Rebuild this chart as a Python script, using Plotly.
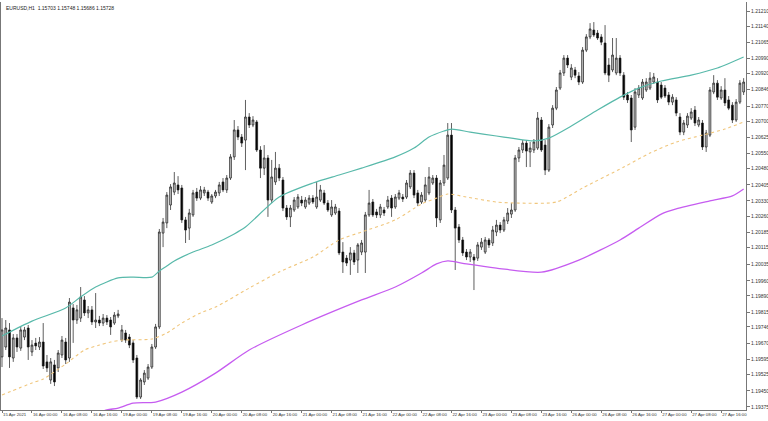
import plotly.graph_objects as go

title_text = "EURUSD,H1  1.15703 1.15748 1.15686 1.15728"

opens = [1.19607,1.19653,1.19732,1.19602,1.19695,1.19648,1.19699,1.19741,1.19630,1.19671,
1.19653,1.19676,1.19584,1.19500,1.19570,1.19556,1.19616,1.19676,1.19602,1.19834,
1.19778,1.19787,1.19871,1.19811,1.19825,1.19769,1.19778,1.19764,1.19787,1.19778,
1.19764,1.19797,1.19685,1.19718,1.19699,1.19672,1.19602,1.19421,1.19491,1.19509,
1.19560,1.19653,1.19746,1.20181,1.20228,1.20311,1.20371,1.20404,1.20390,1.20242,
1.20204,1.20265,1.20371,1.20343,1.20367,1.20371,1.20325,1.20353,1.20367,1.20418,
1.20381,1.20436,1.20534,1.20659,1.20626,1.20612,1.20719,1.20682,1.20696,1.20566,
1.20482,1.20529,1.20334,1.20418,1.20482,1.20427,1.20297,1.20256,1.20288,1.20302,
1.20334,1.20302,1.20320,1.20343,1.20302,1.20334,1.20367,1.20320,1.20265,1.20274,
1.20283,1.20093,1.20065,1.20056,1.20089,1.20056,1.20093,1.20093,1.20265,1.20325,
1.20279,1.20265,1.20288,1.20302,1.20343,1.20302,1.20343,1.20348,1.20348,1.20395,
1.20459,1.20367,1.20325,1.20334,1.20367,1.20413,1.20436,1.20242,1.20413,1.20436,
1.20635,1.20288,1.20209,1.20149,1.20093,1.20070,1.20070,1.20065,1.20116,1.20093,
1.20149,1.20135,1.20186,1.20218,1.20195,1.20237,1.20269,1.20288,1.20529,1.20566,
1.20598,1.20557,1.20566,1.20575,1.20705,1.20589,1.20473,1.20682,1.20760,1.20853,
1.20923,1.20992,1.20904,1.20937,1.20909,1.20881,1.21029,1.21090,1.21122,1.21108,
1.21090,1.21062,1.20960,1.20937,1.20923,1.20992,1.20913,1.20821,1.20807,1.20672,
1.20821,1.20807,1.20844,1.20853,1.20881,1.20881,1.20867,1.20853,1.20821,1.20788,
1.20798,1.20719,1.20649,1.20682,1.20714,1.20751,1.20682,1.20691,1.20580,1.20635,
1.20835,1.20876,1.20807,1.20844,1.20798,1.20774,1.20705,1.20788,1.20835]

highs = [1.19787,1.19778,1.19764,1.19713,1.19713,1.19750,1.19746,1.19755,1.19685,1.19695,
1.19699,1.19764,1.19616,1.19602,1.19593,1.19639,1.19704,1.19695,1.19880,1.19852,
1.19848,1.19931,1.19889,1.19843,1.19843,1.19903,1.19797,1.19806,1.19801,1.19792,
1.19815,1.19825,1.19755,1.19732,1.19713,1.19685,1.19616,1.19509,1.19546,1.19574,
1.19667,1.19760,1.20200,1.20251,1.20371,1.20408,1.20464,1.20445,1.20404,1.20256,
1.20293,1.20381,1.20390,1.20399,1.20395,1.20381,1.20362,1.20381,1.20418,1.20436,
1.20450,1.20547,1.20705,1.20677,1.20640,1.20798,1.20737,1.20723,1.20705,1.20584,
1.20589,1.20543,1.20520,1.20557,1.20501,1.20441,1.20311,1.20311,1.20348,1.20362,
1.20353,1.20348,1.20357,1.20357,1.20418,1.20404,1.20381,1.20334,1.20334,1.20316,
1.20297,1.20139,1.20079,1.20116,1.20103,1.20135,1.20149,1.20279,1.20381,1.20339,
1.20293,1.20316,1.20302,1.20353,1.20357,1.20362,1.20381,1.20362,1.20427,1.20473,
1.20473,1.20381,1.20371,1.20441,1.20487,1.20450,1.20450,1.20427,1.20543,1.20691,
1.20691,1.20302,1.20223,1.20163,1.20107,1.20107,1.20084,1.20139,1.20158,1.20163,
1.20158,1.20214,1.20242,1.20232,1.20256,1.20297,1.20320,1.20543,1.20580,1.20612,
1.20612,1.20603,1.20617,1.20742,1.20719,1.20612,1.20686,1.20774,1.20858,1.20937,
1.21006,1.21006,1.20964,1.20951,1.20927,1.21043,1.21103,1.21154,1.21159,1.21122,
1.21103,1.21145,1.20992,1.21085,1.21085,1.21006,1.20927,1.20835,1.20821,1.20853,
1.20867,1.20895,1.20899,1.20927,1.20923,1.20899,1.20881,1.20867,1.20835,1.20825,
1.20811,1.20737,1.20705,1.20737,1.20760,1.20770,1.20719,1.20705,1.20659,1.20858,
1.20913,1.20890,1.20862,1.20899,1.20816,1.20788,1.20802,1.20890,1.20899]

lows = [1.19560,1.19639,1.19556,1.19584,1.19630,1.19635,1.19685,1.19593,1.19611,1.19639,
1.19639,1.19551,1.19537,1.19482,1.19472,1.19537,1.19602,1.19574,1.19584,1.19672,
1.19760,1.19769,1.19797,1.19787,1.19755,1.19741,1.19750,1.19750,1.19755,1.19709,
1.19755,1.19787,1.19676,1.19672,1.19648,1.19579,1.19412,1.19412,1.19477,1.19500,
1.19551,1.19644,1.19736,1.20116,1.20204,1.20288,1.20357,1.20362,1.20228,1.20135,
1.20149,1.20256,1.20330,1.20334,1.20353,1.20330,1.20316,1.20343,1.20353,1.20371,
1.20367,1.20427,1.20520,1.20612,1.20580,1.20473,1.20668,1.20672,1.20557,1.20436,
1.20450,1.20256,1.20320,1.20404,1.20422,1.20283,1.20242,1.20209,1.20279,1.20293,
1.20306,1.20293,1.20311,1.20316,1.20293,1.20325,1.20311,1.20279,1.20256,1.20265,
1.20079,1.19996,1.20028,1.19987,1.20033,1.19996,1.20079,1.19996,1.20256,1.20256,
1.20251,1.20251,1.20260,1.20293,1.20256,1.20293,1.20334,1.20325,1.20339,1.20385,
1.20343,1.20306,1.20316,1.20325,1.20357,1.20404,1.20209,1.20228,1.20399,1.20427,
1.20274,1.20010,1.20135,1.20075,1.20056,1.20047,1.19917,1.20052,1.20103,1.20084,
1.20112,1.20121,1.20167,1.20181,1.20186,1.20223,1.20251,1.20279,1.20510,1.20552,
1.20487,1.20487,1.20552,1.20566,1.20557,1.20450,1.20464,1.20668,1.20751,1.20844,
1.20909,1.20946,1.20890,1.20899,1.20867,1.20872,1.21020,1.21080,1.21090,1.21076,
1.21052,1.20913,1.20881,1.20927,1.20913,1.20909,1.20798,1.20784,1.20603,1.20659,
1.20807,1.20798,1.20835,1.20844,1.20872,1.20784,1.20802,1.20807,1.20774,1.20774,
1.20723,1.20635,1.20635,1.20668,1.20705,1.20677,1.20672,1.20566,1.20557,1.20626,
1.20825,1.20798,1.20798,1.20770,1.20751,1.20691,1.20696,1.20779,1.20821]

closes = [1.19732,1.19741,1.19607,1.19695,1.19653,1.19732,1.19732,1.19653,1.19662,1.19658,
1.19676,1.19565,1.19556,1.19584,1.19491,1.19625,1.19685,1.19593,1.19861,1.19778,
1.19825,1.19885,1.19811,1.19825,1.19769,1.19778,1.19764,1.19787,1.19769,1.19746,
1.19801,1.19806,1.19732,1.19685,1.19662,1.19593,1.19421,1.19500,1.19532,1.19560,
1.19653,1.19746,1.20186,1.20232,1.20357,1.20395,1.20413,1.20381,1.20242,1.20195,
1.20274,1.20367,1.20343,1.20381,1.20381,1.20343,1.20353,1.20371,1.20404,1.20381,
1.20436,1.20534,1.20659,1.20626,1.20598,1.20719,1.20682,1.20705,1.20566,1.20482,
1.20529,1.20334,1.20441,1.20482,1.20436,1.20297,1.20256,1.20297,1.20334,1.20348,
1.20320,1.20334,1.20343,1.20325,1.20348,1.20381,1.20320,1.20288,1.20302,1.20302,
1.20089,1.20047,1.20042,1.20089,1.20047,1.20126,1.20135,1.20265,1.20320,1.20265,
1.20265,1.20302,1.20274,1.20334,1.20297,1.20348,1.20367,1.20339,1.20413,1.20459,
1.20357,1.20320,1.20357,1.20404,1.20441,1.20436,1.20251,1.20413,1.20496,1.20635,
1.20288,1.20204,1.20149,1.20089,1.20070,1.20093,1.20056,1.20126,1.20139,1.20149,
1.20126,1.20195,1.20218,1.20195,1.20242,1.20274,1.20288,1.20529,1.20566,1.20598,
1.20561,1.20575,1.20603,1.20714,1.20566,1.20473,1.20672,1.20760,1.20844,1.20923,
1.20992,1.20960,1.20946,1.20913,1.20881,1.21029,1.21090,1.21127,1.21099,1.21085,
1.21066,1.20923,1.20913,1.21006,1.20992,1.20923,1.20811,1.20798,1.20659,1.20835,
1.20853,1.20881,1.20881,1.20899,1.20904,1.20798,1.20811,1.20816,1.20788,1.20811,
1.20737,1.20649,1.20691,1.20723,1.20742,1.20691,1.20705,1.20580,1.20645,1.20844,
1.20876,1.20811,1.20844,1.20784,1.20760,1.20705,1.20788,1.20876,1.20881]

# indicator lines: (bar index, value)
upper_bars = [0, 8, 17, 21, 25, 31, 35, 40, 42, 44, 46, 51, 56, 62, 65, 74, 83, 90, 96, 105, 110, 114, 118, 120, 125, 132, 136, 142, 146, 152, 159, 165, 170, 176, 184, 191, 198]
upper_vals = [1.19704, 1.19773, 1.19834, 1.19885, 1.19931, 1.19973, 1.19977, 1.19977, 1.20005, 1.20028, 1.20052, 1.20093, 1.20126, 1.20177, 1.20209, 1.20348, 1.20413, 1.20450, 1.20482, 1.20534, 1.20575, 1.20626, 1.20654, 1.20663, 1.20649, 1.20631, 1.20621, 1.20608, 1.20621, 1.20677, 1.20751, 1.20811, 1.20853, 1.20886, 1.20913, 1.20946, 1.20997]

middle_bars = [0, 8, 11, 17, 22, 26, 29, 32, 40, 44, 48, 53, 57, 66, 74, 83, 90, 96, 105, 112, 116, 119, 124, 132, 138, 148, 155, 166, 173, 180, 187, 193, 198]
middle_vals = [1.19431, 1.19486, 1.19505, 1.19574, 1.19639, 1.19662, 1.19676, 1.19685, 1.19690, 1.19718, 1.19764, 1.19811, 1.19838, 1.19926, 1.20001, 1.20070, 1.20149, 1.20186, 1.20242, 1.20316, 1.20343, 1.20362, 1.20348, 1.20325, 1.20320, 1.20325, 1.20390, 1.20487, 1.20552, 1.20603, 1.20635, 1.20663, 1.20696]

lower_bars = [20, 28, 31, 35, 41, 48, 57, 66, 80, 96, 105, 112, 116, 119, 124, 132, 144, 154, 165, 170, 176, 180, 189, 195, 198]
lower_vals = [1.19319, 1.19361, 1.19370, 1.19393, 1.19398, 1.19444, 1.19532, 1.19639, 1.19755, 1.19871, 1.19931, 1.19996, 1.20038, 1.20052, 1.20038, 1.20019, 1.20000, 1.20056, 1.20149, 1.20204, 1.20269, 1.20293, 1.20330, 1.20353, 1.20385]

time_labels = ["15 Apr 2021", "16 Apr 00:00", "16 Apr 08:00", "16 Apr 16:00", "19 Apr 00:00",
               "19 Apr 08:00", "19 Apr 16:00", "20 Apr 00:00", "20 Apr 08:00", "20 Apr 16:00",
               "21 Apr 00:00", "21 Apr 08:00", "21 Apr 16:00", "22 Apr 00:00", "22 Apr 08:00",
               "22 Apr 16:00", "23 Apr 00:00", "23 Apr 08:00", "23 Apr 16:00", "26 Apr 00:00",
               "26 Apr 08:00", "26 Apr 16:00", "27 Apr 00:00", "27 Apr 08:00", "27 Apr 16:00"]
label_bars = [0, 8, 16, 24, 32, 40, 48, 56, 64, 72, 80, 88, 96, 104, 112, 120, 128, 136, 144, 152, 160, 168, 176, 184, 192]

price_ticks = [1.21210, 1.21140, 1.21065, 1.20990, 1.20920, 1.20846, 1.20770, 1.20700, 1.20625,
               1.20550, 1.20480, 1.20405, 1.20330, 1.20260, 1.20185, 1.20115, 1.20035, 1.19960,
               1.19890, 1.19815, 1.19746, 1.19670, 1.19595, 1.19525, 1.19450, 1.19375]

bars = list(range(len(opens)))

fig = go.Figure()
fig.add_trace(go.Candlestick(
    x=bars, open=opens, high=highs, low=lows, close=closes,
    increasing=dict(line=dict(color="#1a1a1a", width=0.7), fillcolor="#c4c4c4"),
    decreasing=dict(line=dict(color="#1a1a1a", width=0.7), fillcolor="#000000"),
    whiskerwidth=0, showlegend=False, hoverinfo="skip"))
fig.add_trace(go.Scatter(x=upper_bars, y=upper_vals, mode="lines", showlegend=False,
                         line=dict(color="#58b9aa", width=1.2, shape="spline", smoothing=0.7)))
fig.add_trace(go.Scatter(x=middle_bars, y=middle_vals, mode="lines", showlegend=False,
                         line=dict(color="#f0c67c", width=1.1, dash="dot", shape="spline", smoothing=0.7)))
fig.add_trace(go.Scatter(x=lower_bars, y=lower_vals, mode="lines", showlegend=False,
                         line=dict(color="#c65cf0", width=1.3, shape="spline", smoothing=0.7)))

fig.update_layout(
    width=768, height=421,
    margin=dict(l=1, r=22, t=2, b=11),
    paper_bgcolor="white", plot_bgcolor="white",
    font=dict(family="Liberation Sans", color="#333333"),
    showlegend=False,
    xaxis=dict(range=[-0.27, 198.63], rangeslider=dict(visible=False),
               showgrid=False, zeroline=False, showline=True, linecolor="#777777", linewidth=1,
               ticks="outside", ticklen=2, tickcolor="#777777", tickangle=0,
               tickvals=label_bars, ticktext=time_labels, ticklabelposition="outside right",
               tickfont=dict(size=4.3, color="#333333"), automargin=False, fixedrange=True),
    yaxis=dict(side="right", range=[1.19361, 1.21252],
               showgrid=False, zeroline=False, showline=True, mirror=True,
               linecolor="#777777", linewidth=1,
               ticks="outside", ticklen=3, tickcolor="#777777",
               tickvals=price_ticks, ticktext=[f"{v:.5f}" for v in price_ticks],
               tickfont=dict(size=5, color="#333333"), automargin=False, fixedrange=True),
    annotations=[dict(x=0, y=1, xref="paper", yref="paper", xanchor="left", yanchor="top",
                      xshift=3, yshift=-1, showarrow=False, text=title_text,
                      font=dict(size=5, color="#222222"))],
)

fig.write_html("out.html", config={"displayModeBar": False},
               post_script="document.body.style.margin='0';document.body.style.overflow='hidden';")
